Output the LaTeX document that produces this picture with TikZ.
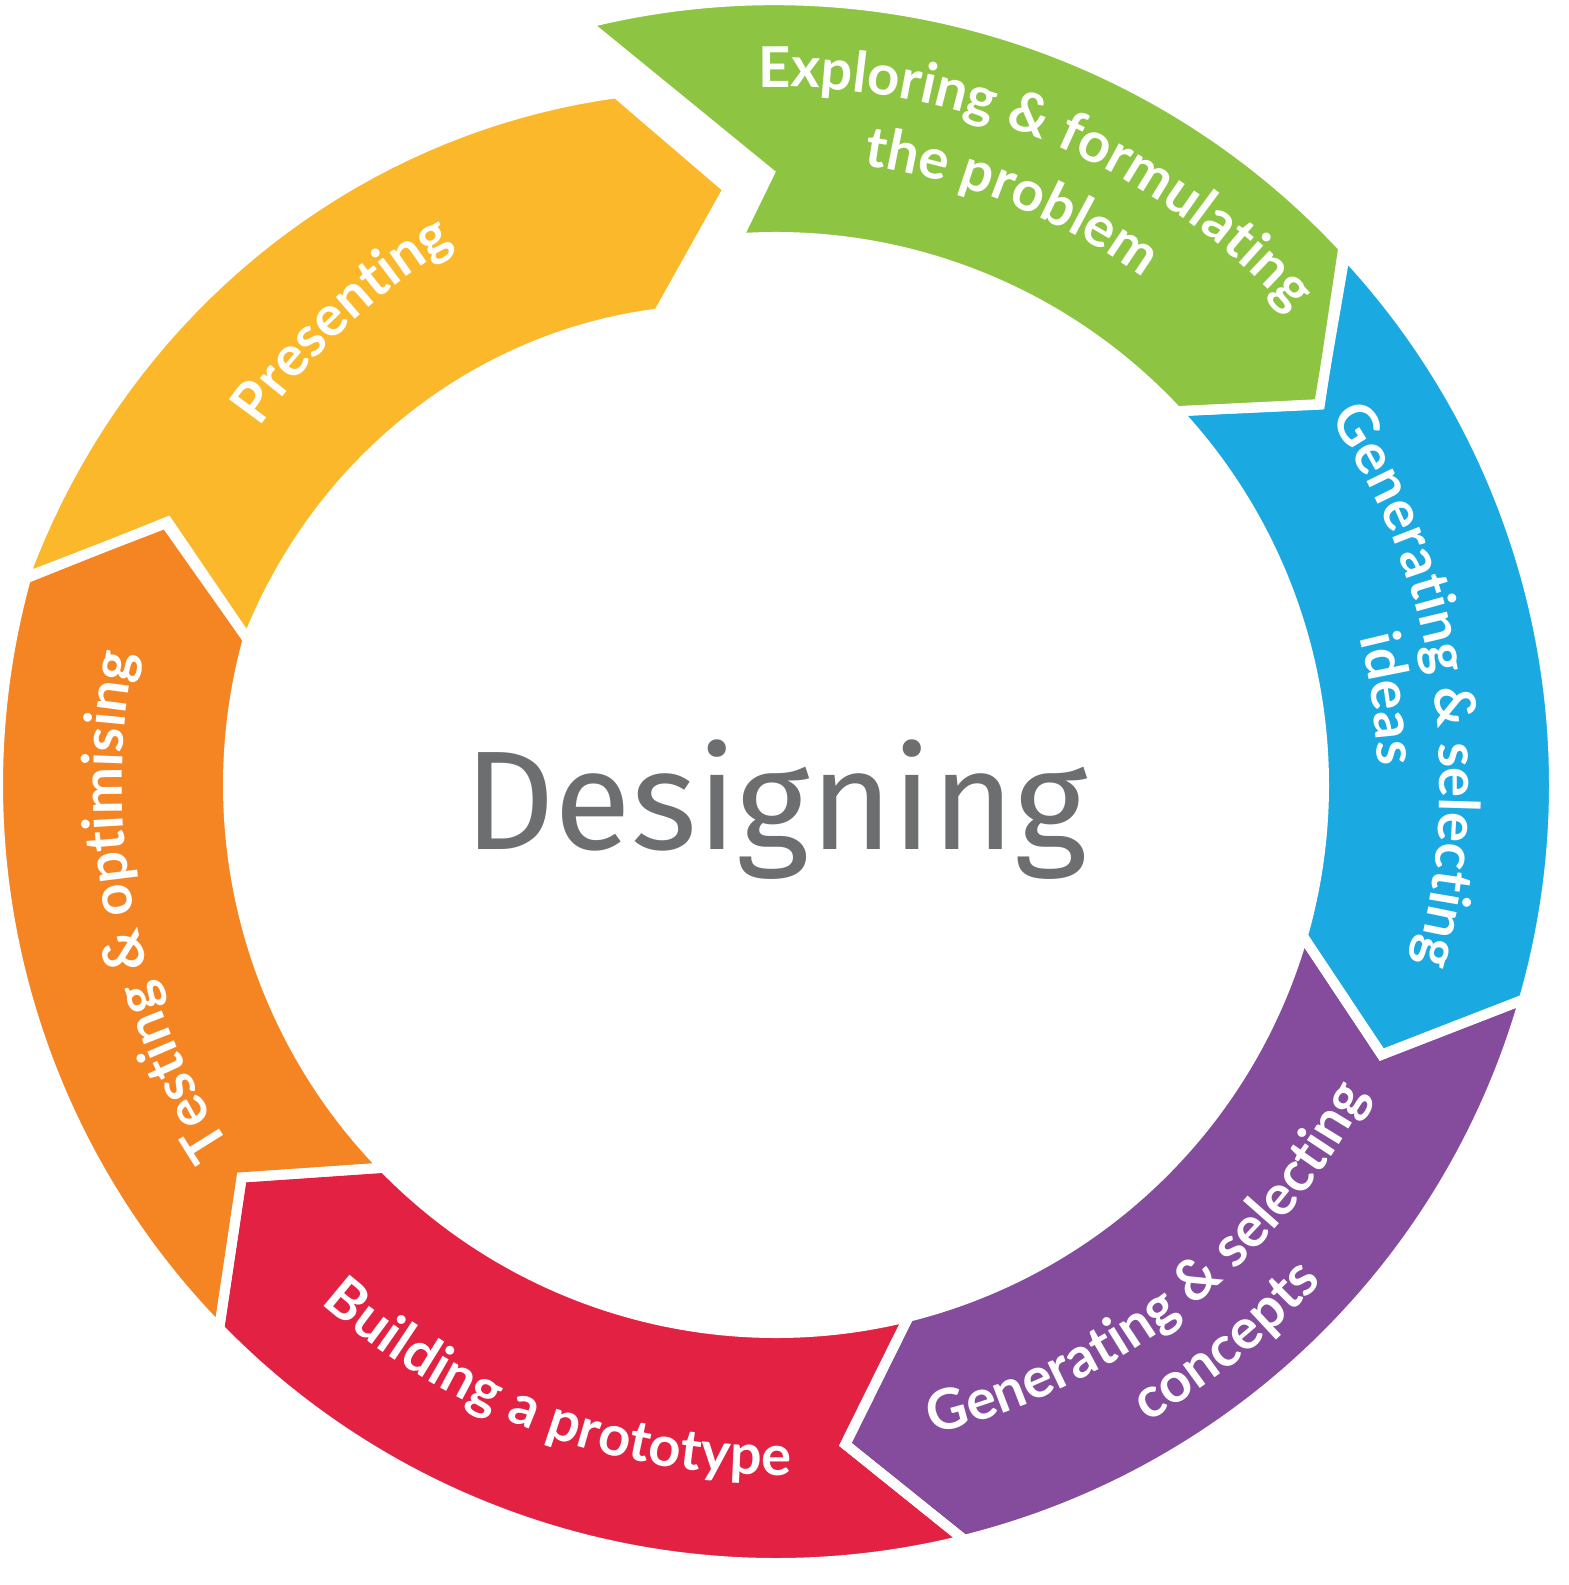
\documentclass[tikz,border=0pt]{standalone}
\usepackage{fontspec}
\setmainfont{Lato}
\newfontfamily\handfont{Fira Sans}
\usetikzlibrary{decorations.text}
\definecolor{cgreen}{HTML}{8DC543}
\definecolor{cblue}{HTML}{1AAAE1}
\definecolor{cpurple}{HTML}{854C9D}
\definecolor{cred}{HTML}{E32142}
\definecolor{corange}{HTML}{F58423}
\definecolor{cyellow}{HTML}{FBB82A}
\definecolor{cgray}{HTML}{6D6E70}
\newcommand\lbl{\color{white}\fontsize{16}{19}\selectfont\bfseries}
% segment: style, start angle, end angle, inner radius, outer radius
\newcommand\seg[5]{%
  \path[#1] (#2:#5) arc[start angle=#2,end angle=#3,radius=#5]
    -- ({#3-8}:{(#4+#5)/2}) -- (#3:#4)
    arc[start angle=#3,end angle=#2,radius=#4]
    -- ({#2-8}:{(#4+#5)/2}) -- cycle;}
% the two odd segments at the top
\newcommand\greenseg[1]{%
  \path[#1] (104:785) arc[start angle=104,end angle=43,radius=778]
    -- (35:664) -- (43:548) arc[start angle=43,end angle=94,radius=548]
    -- (90.6:612) -- cycle;}
\newcommand\yellowseg[1]{%
  \path[#1] plot[domain=164.6:103,samples=40]
      (\x:{780+(\x-164.6)*(710-780)/(103-164.6)})
    -- (94.6:598)
    -- plot[domain=104:164.6,samples=40] (\x:{486+(\x-104)*(62)/(60.6)})
    -- (156.8:664) -- cycle;}
% curved label: radius, start angle, end angle, text
\newcommand\arclabel[4]{%
  \path[decorate,decoration={text along path,text align=center,
    text={|\lbl|#4}}] (#2:#1) arc[start angle=#2,end angle=#3,radius=#1];}
\begin{document}
\begin{tikzpicture}[x=0.01cm,y=0.01cm,
  segline/.style={draw=white,line width=0.1cm,line join=miter}]
\useasboundingbox (-776,-800) rectangle (792,785);

% fills
\greenseg{fill=cgreen}
\seg{fill=cblue}{43}{-16}{548}{778}
\seg{fill=cpurple}{-16}{-76}{548}{778}
\seg{fill=cred}{-76}{-135.7}{548}{778}
\seg{fill=corange}{224.3}{164.6}{548}{778}
\yellowseg{fill=cyellow}
% white seams
\greenseg{segline}
\seg{segline}{43}{-16}{548}{778}
\seg{segline}{-16}{-76}{548}{778}
\seg{segline}{-76}{-135.7}{548}{778}
\seg{segline}{224.3}{164.6}{548}{778}
\yellowseg{segline}

% labels
\arclabel{698}{100}{34}{Exploring {\&} formulating}
\arclabel{626}{96}{40}{the problem}
\arclabel{664}{40}{-22}{Generating {\&} selecting}
\arclabel{602}{30}{-14}{ideas}
\arclabel{668}{-82}{-22}{Generating {\&} selecting}
\arclabel{738}{-78}{-24}{concepts}
\arclabel{690}{222}{278}{Building a prototype}
\arclabel{654}{222}{160}{Testing {\&} optimising}
\arclabel{628}{160}{106}{Presenting}

\node[text=cgray,font=\handfont\fontsize{40}{48}\selectfont] (designing)
  at (0,-25) {Designing};
\end{tikzpicture}
\end{document}
